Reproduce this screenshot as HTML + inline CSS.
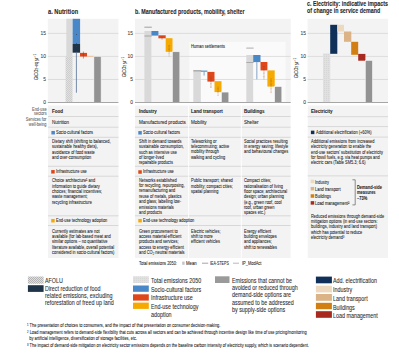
<!DOCTYPE html>
<html><head><meta charset="utf-8"><style>
html,body{margin:0;padding:0;background:#fff;width:399px;height:355px;overflow:hidden;position:relative;font-family:"Liberation Sans", sans-serif;}
sub,sup{line-height:0;}
div{-webkit-text-stroke:0.08px currentColor;}
</style></head><body>
<svg width="399" height="355" viewBox="0 0 399 355" style="position:absolute;left:0;top:0" shape-rendering="auto"><defs>
<pattern id="hatch" width="2" height="2" patternUnits="userSpaceOnUse"><rect width="2" height="2" fill="#e0e0e0"/><rect width="1" height="1" fill="#cdcdcd"/><rect x="1" y="1" width="1" height="1" fill="#cdcdcd"/></pattern>
<pattern id="dots" width="2" height="2" patternUnits="userSpaceOnUse"><rect width="2" height="2" fill="#e0e0e0"/><rect width="1" height="1" fill="#d6d6d6"/></pattern>
<pattern id="hatch2" width="2" height="2" patternUnits="userSpaceOnUse"><rect width="2" height="2" fill="#dedede"/><rect width="1" height="1" fill="#b4b4b4"/><rect x="1" y="1" width="1" height="1" fill="#b4b4b4"/></pattern>
</defs><rect x="47.80" y="18.80" width="70.60" height="83.70" fill="#f3f3f3" /><rect x="135.00" y="18.80" width="155.70" height="83.70" fill="#f3f3f3" /><rect x="307.60" y="18.80" width="80.40" height="83.70" fill="#f3f3f3" /><rect x="189.30" y="41.90" width="96.30" height="60.60" fill="#fafafa" /><line x1="47.80" y1="79.47" x2="118.40" y2="79.47" stroke="#d2d2d2" stroke-width="0.7" /><line x1="47.80" y1="56.43" x2="118.40" y2="56.43" stroke="#d2d2d2" stroke-width="0.7" /><line x1="47.80" y1="33.40" x2="118.40" y2="33.40" stroke="#d2d2d2" stroke-width="0.7" /><line x1="135.00" y1="79.47" x2="290.70" y2="79.47" stroke="#d2d2d2" stroke-width="0.7" /><line x1="135.00" y1="56.43" x2="290.70" y2="56.43" stroke="#d2d2d2" stroke-width="0.7" /><line x1="135.00" y1="33.40" x2="290.70" y2="33.40" stroke="#d2d2d2" stroke-width="0.7" /><line x1="307.60" y1="79.47" x2="388.00" y2="79.47" stroke="#d2d2d2" stroke-width="0.7" /><line x1="307.60" y1="56.43" x2="388.00" y2="56.43" stroke="#d2d2d2" stroke-width="0.7" /><line x1="307.60" y1="33.40" x2="388.00" y2="33.40" stroke="#d2d2d2" stroke-width="0.7" /><rect x="66.30" y="18.80" width="6.10" height="37.63" fill="#d9d9d9" /><rect x="65.60" y="56.43" width="6.90" height="46.07" fill="url(#hatch)" /><rect x="72.60" y="18.80" width="7.50" height="25.10" fill="#4a87c9" /><rect x="72.60" y="43.90" width="7.50" height="8.80" fill="#1f3449" /><line x1="76.40" y1="52.70" x2="76.40" y2="92.70" stroke="#4a6890" stroke-width="0.75" /><rect x="76.00" y="34.00" width="0.80" height="0.80" fill="#2c3e55" /><rect x="76.00" y="43.00" width="0.80" height="0.80" fill="#2c3e55" /><rect x="76.00" y="46.10" width="0.80" height="0.80" fill="#2c3e55" /><rect x="76.00" y="50.90" width="0.80" height="0.80" fill="#2c3e55" /><rect x="80.00" y="52.90" width="7.00" height="3.60" fill="#df4619" /><line x1="83.40" y1="51.50" x2="83.40" y2="58.50" stroke="#7a3a20" stroke-width="0.5" /><line x1="87.00" y1="56.30" x2="94.00" y2="56.30" stroke="#f3b27a" stroke-width="0.7" /><rect x="93.90" y="56.43" width="7.20" height="46.07" fill="#929292" stroke="#fafafa" stroke-width="0.5"/><rect x="144.40" y="31.00" width="7.00" height="71.50" fill="#d9d9d9" /><rect x="151.40" y="31.00" width="7.00" height="4.60" fill="#4a87c9" /><rect x="158.40" y="35.30" width="7.30" height="3.00" fill="#df4619" /><rect x="165.70" y="38.20" width="6.80" height="13.60" fill="#f6a900" /><rect x="172.50" y="51.80" width="7.30" height="50.70" fill="#929292" stroke="#fafafa" stroke-width="0.5"/><line x1="144.40" y1="27.20" x2="151.80" y2="27.20" stroke="#666666" stroke-width="0.6" /><line x1="144.40" y1="36.00" x2="151.80" y2="36.00" stroke="#a6a6a6" stroke-width="1.0" /><line x1="154.90" y1="35.60" x2="154.90" y2="35.60" stroke="#5f87b5" stroke-width="0.75" /><line x1="162.05" y1="36.80" x2="162.05" y2="38.30" stroke="#7a4020" stroke-width="0.55" stroke-dasharray="0.8 0.6"/><line x1="162.05" y1="38.30" x2="162.05" y2="40.00" stroke="#a06a48" stroke-width="0.7" stroke-dasharray="0.9 0.5"/><line x1="169.10" y1="45.00" x2="169.10" y2="51.80" stroke="#7a4020" stroke-width="0.55" stroke-dasharray="0.8 0.6"/><line x1="169.10" y1="51.80" x2="169.10" y2="56.40" stroke="#c0885a" stroke-width="0.7" stroke-dasharray="0.9 0.5"/><rect x="193.30" y="70.80" width="7.50" height="31.70" fill="#d9d9d9" /><rect x="200.80" y="70.60" width="6.60" height="1.10" fill="#4a87c9" /><rect x="207.40" y="71.90" width="7.10" height="9.70" fill="#df4619" /><rect x="214.50" y="81.20" width="7.00" height="10.90" fill="#f6a900" /><rect x="221.50" y="92.10" width="7.30" height="10.40" fill="#929292" stroke="#fafafa" stroke-width="0.5"/><line x1="193.30" y1="70.80" x2="201.20" y2="70.80" stroke="#777777" stroke-width="0.8" /><line x1="204.10" y1="71.70" x2="204.10" y2="75.60" stroke="#5f87b5" stroke-width="0.75" /><line x1="210.95" y1="76.75" x2="210.95" y2="81.60" stroke="#7a4020" stroke-width="0.55" stroke-dasharray="0.8 0.6"/><line x1="210.95" y1="81.60" x2="210.95" y2="88.00" stroke="#a06a48" stroke-width="0.7" stroke-dasharray="0.9 0.5"/><line x1="218.00" y1="86.65" x2="218.00" y2="92.10" stroke="#7a4020" stroke-width="0.55" stroke-dasharray="0.8 0.6"/><line x1="218.00" y1="92.10" x2="218.00" y2="96.00" stroke="#c0885a" stroke-width="0.7" stroke-dasharray="0.9 0.5"/><rect x="246.30" y="55.00" width="6.90" height="47.50" fill="#d9d9d9" /><rect x="253.20" y="55.00" width="7.30" height="7.10" fill="#4a87c9" /><rect x="260.50" y="62.00" width="6.90" height="8.40" fill="#df4619" /><rect x="267.40" y="70.40" width="7.30" height="16.20" fill="#f6a900" /><rect x="274.70" y="86.60" width="7.10" height="15.90" fill="#929292" stroke="#fafafa" stroke-width="0.5"/><line x1="246.30" y1="48.10" x2="253.60" y2="48.10" stroke="#8a8a8a" stroke-width="0.7" /><line x1="246.30" y1="62.50" x2="253.60" y2="62.50" stroke="#a6a6a6" stroke-width="0.9" /><line x1="256.85" y1="62.10" x2="256.85" y2="79.30" stroke="#5f87b5" stroke-width="0.75" /><line x1="263.95" y1="66.20" x2="263.95" y2="70.40" stroke="#7a4020" stroke-width="0.55" stroke-dasharray="0.8 0.6"/><line x1="263.95" y1="70.40" x2="263.95" y2="79.30" stroke="#a06a48" stroke-width="0.7" stroke-dasharray="0.9 0.5"/><line x1="271.05" y1="78.50" x2="271.05" y2="86.60" stroke="#7a4020" stroke-width="0.55" stroke-dasharray="0.8 0.6"/><line x1="271.05" y1="86.60" x2="271.05" y2="93.50" stroke="#c0885a" stroke-width="0.7" stroke-dasharray="0.9 0.5"/><rect x="323.00" y="53.50" width="7.20" height="49.00" fill="url(#dots)" /><rect x="330.20" y="24.80" width="7.10" height="29.00" fill="#10305a" /><rect x="337.30" y="24.80" width="6.70" height="6.70" fill="#ecd9c0" /><rect x="344.00" y="31.50" width="7.30" height="10.30" fill="#dbb387" /><rect x="351.20" y="41.80" width="7.00" height="13.00" fill="#d17f12" /><rect x="358.20" y="53.90" width="7.20" height="6.80" fill="#a8291e" /><rect x="365.40" y="60.50" width="7.00" height="42.00" fill="#929292" stroke="#fafafa" stroke-width="0.5"/><line x1="47.80" y1="102.50" x2="118.40" y2="102.50" stroke="#a6a6a6" stroke-width="1.0" /><line x1="135.00" y1="102.50" x2="290.70" y2="102.50" stroke="#a6a6a6" stroke-width="1.0" /><line x1="307.60" y1="102.50" x2="388.00" y2="102.50" stroke="#a6a6a6" stroke-width="1.0" /><rect x="48.00" y="105.50" width="70.50" height="152.50" fill="#f3f3f3" /><line x1="48.00" y1="116.50" x2="118.50" y2="116.50" stroke="#d8d8d8" stroke-width="1.0" /><line x1="48.00" y1="127.20" x2="118.50" y2="127.20" stroke="#d8d8d8" stroke-width="1.0" /><line x1="48.00" y1="137.30" x2="118.50" y2="137.30" stroke="#d8d8d8" stroke-width="1.0" /><line x1="48.00" y1="166.30" x2="118.50" y2="166.30" stroke="#d8d8d8" stroke-width="1.0" /><line x1="48.00" y1="176.20" x2="118.50" y2="176.20" stroke="#d8d8d8" stroke-width="1.0" /><line x1="48.00" y1="215.80" x2="118.50" y2="215.80" stroke="#d8d8d8" stroke-width="1.0" /><line x1="48.00" y1="225.50" x2="118.50" y2="225.50" stroke="#d8d8d8" stroke-width="1.0" /><rect x="135.00" y="105.50" width="155.60" height="152.50" fill="#f3f3f3" /><line x1="135.00" y1="116.50" x2="290.60" y2="116.50" stroke="#d8d8d8" stroke-width="1.0" /><line x1="135.00" y1="127.20" x2="290.60" y2="127.20" stroke="#d8d8d8" stroke-width="1.0" /><line x1="135.00" y1="137.30" x2="290.60" y2="137.30" stroke="#d8d8d8" stroke-width="1.0" /><line x1="135.00" y1="166.30" x2="290.60" y2="166.30" stroke="#d8d8d8" stroke-width="1.0" /><line x1="135.00" y1="176.20" x2="290.60" y2="176.20" stroke="#d8d8d8" stroke-width="1.0" /><line x1="135.00" y1="215.80" x2="290.60" y2="215.80" stroke="#d8d8d8" stroke-width="1.0" /><line x1="135.00" y1="225.50" x2="290.60" y2="225.50" stroke="#d8d8d8" stroke-width="1.0" /><line x1="188.60" y1="105.50" x2="188.60" y2="258.00" stroke="#ffffff" stroke-width="0.9" /><line x1="241.30" y1="105.50" x2="241.30" y2="258.00" stroke="#ffffff" stroke-width="0.9" /><rect x="307.70" y="105.50" width="80.30" height="152.50" fill="#f3f3f3" /><line x1="307.70" y1="116.70" x2="388.00" y2="116.70" stroke="#d8d8d8" stroke-width="1.0" /><line x1="307.70" y1="126.60" x2="388.00" y2="126.60" stroke="#d8d8d8" stroke-width="1.0" /><line x1="307.70" y1="137.10" x2="388.00" y2="137.10" stroke="#d8d8d8" stroke-width="1.0" /><line x1="307.70" y1="175.90" x2="388.00" y2="175.90" stroke="#d8d8d8" stroke-width="1.0" /><rect x="51.40" y="130.95" width="3.50" height="3.50" fill="#4a87c9" /><rect x="51.20" y="170.05" width="3.50" height="3.50" fill="#df4619" /><rect x="51.20" y="218.95" width="3.50" height="3.50" fill="#f6a900" /><rect x="138.30" y="131.05" width="3.50" height="3.50" fill="#4a87c9" /><rect x="138.30" y="170.25" width="3.50" height="3.50" fill="#df4619" /><rect x="138.30" y="218.95" width="3.50" height="3.50" fill="#f6a900" /><rect x="310.90" y="130.65" width="3.50" height="3.50" fill="#10305a" /><rect x="310.70" y="179.65" width="3.50" height="3.50" fill="#ecd9c0" /><rect x="310.70" y="186.95" width="3.50" height="3.50" fill="#dbb387" /><rect x="310.70" y="194.25" width="3.50" height="3.50" fill="#d17f12" /><rect x="310.70" y="201.15" width="3.50" height="3.50" fill="#a8291e" /><path d="M352.4,179.8 H355.2 V204.9 H352.4" fill="none" stroke="#444" stroke-width="0.6"/><rect x="27.90" y="276.50" width="15.70" height="7.20" fill="url(#hatch2)" /><rect x="27.90" y="285.20" width="15.70" height="6.70" fill="#1f3449" /><rect x="133.00" y="276.30" width="15.80" height="6.70" fill="url(#dots)" /><rect x="133.00" y="285.50" width="15.80" height="6.30" fill="#4a87c9" /><rect x="133.00" y="294.30" width="15.80" height="6.30" fill="#df4619" /><rect x="133.00" y="302.60" width="15.80" height="6.30" fill="#f6a900" /><rect x="215.00" y="276.30" width="14.50" height="6.70" fill="#9a9a9a" /><rect x="315.90" y="276.60" width="16.00" height="6.70" fill="#10305a" /><rect x="315.90" y="285.70" width="16.00" height="6.70" fill="#ecd9c0" /><rect x="315.90" y="294.00" width="16.00" height="6.80" fill="#dbb387" /><rect x="315.90" y="302.80" width="16.00" height="6.40" fill="#d17f12" /><rect x="315.90" y="311.20" width="16.00" height="6.60" fill="#a8291e" /><rect x="182.20" y="261.60" width="2.40" height="3.20" fill="#c4c4c4" /><line x1="202.00" y1="263.20" x2="208.20" y2="263.20" stroke="#666" stroke-width="0.6" /><line x1="233.00" y1="263.20" x2="239.00" y2="263.20" stroke="#888" stroke-width="0.6" /></svg>
<div style="position:absolute;left:48.20px;top:7.50px;font-size:6.8px;font-weight:bold;color:#262626;line-height:8px;transform:scaleX(0.84);transform-origin:0 0;white-space:nowrap;">a. Nutrition</div><div style="position:absolute;left:135.30px;top:7.50px;font-size:6.8px;font-weight:bold;color:#262626;line-height:8px;transform:scaleX(0.79);transform-origin:0 0;white-space:nowrap;">b. Manufactured products, mobility, shelter</div><div style="position:absolute;left:307.40px;top:0.20px;font-size:6.8px;font-weight:bold;color:#262626;line-height:7.0px;transform:scaleX(0.785);transform-origin:0 0;white-space:nowrap;">c. Electricity: indicative impacts<br>of change in service demand</div><div style="position:absolute;right:352.80px;top:99.40px;font-size:5.4px;font-weight:normal;color:#3a3a3a;line-height:6.0px;transform:scaleX(0.9);transform-origin:100% 0;text-align:right;white-space:nowrap;">0</div><div style="position:absolute;right:352.80px;top:76.37px;font-size:5.4px;font-weight:normal;color:#3a3a3a;line-height:6.0px;transform:scaleX(0.9);transform-origin:100% 0;text-align:right;white-space:nowrap;">5</div><div style="position:absolute;right:352.80px;top:53.33px;font-size:5.4px;font-weight:normal;color:#3a3a3a;line-height:6.0px;transform:scaleX(0.9);transform-origin:100% 0;text-align:right;white-space:nowrap;">10</div><div style="position:absolute;right:352.80px;top:30.30px;font-size:5.4px;font-weight:normal;color:#3a3a3a;line-height:6.0px;transform:scaleX(0.9);transform-origin:100% 0;text-align:right;white-space:nowrap;">15</div><div style="position:absolute;right:266.00px;top:99.40px;font-size:5.4px;font-weight:normal;color:#3a3a3a;line-height:6.0px;transform:scaleX(0.9);transform-origin:100% 0;text-align:right;white-space:nowrap;">0</div><div style="position:absolute;right:266.00px;top:76.37px;font-size:5.4px;font-weight:normal;color:#3a3a3a;line-height:6.0px;transform:scaleX(0.9);transform-origin:100% 0;text-align:right;white-space:nowrap;">5</div><div style="position:absolute;right:266.00px;top:53.33px;font-size:5.4px;font-weight:normal;color:#3a3a3a;line-height:6.0px;transform:scaleX(0.9);transform-origin:100% 0;text-align:right;white-space:nowrap;">10</div><div style="position:absolute;right:266.00px;top:30.30px;font-size:5.4px;font-weight:normal;color:#3a3a3a;line-height:6.0px;transform:scaleX(0.9);transform-origin:100% 0;text-align:right;white-space:nowrap;">15</div><div style="position:absolute;right:93.20px;top:99.40px;font-size:5.4px;font-weight:normal;color:#3a3a3a;line-height:6.0px;transform:scaleX(0.9);transform-origin:100% 0;text-align:right;white-space:nowrap;">0</div><div style="position:absolute;right:93.20px;top:76.37px;font-size:5.4px;font-weight:normal;color:#3a3a3a;line-height:6.0px;transform:scaleX(0.9);transform-origin:100% 0;text-align:right;white-space:nowrap;">5</div><div style="position:absolute;right:93.20px;top:53.33px;font-size:5.4px;font-weight:normal;color:#3a3a3a;line-height:6.0px;transform:scaleX(0.9);transform-origin:100% 0;text-align:right;white-space:nowrap;">10</div><div style="position:absolute;right:93.20px;top:30.30px;font-size:5.4px;font-weight:normal;color:#3a3a3a;line-height:6.0px;transform:scaleX(0.9);transform-origin:100% 0;text-align:right;white-space:nowrap;">15</div><div style="position:absolute;left:36.60px;top:67.40px;font-size:4.6px;color:#333;line-height:4.6px;white-space:nowrap;transform:translate(-50%,-50%) rotate(-90deg) scaleX(0.9);">GtCO<sub style="font-size:70%;vertical-align:-0.5px">2</sub>-eq yr<sup style="font-size:70%;vertical-align:1.5px">−1</sup></div><div style="position:absolute;left:124.60px;top:67.20px;font-size:4.6px;color:#333;line-height:4.6px;white-space:nowrap;transform:translate(-50%,-50%) rotate(-90deg) scaleX(0.9);">GtCO<sub style="font-size:70%;vertical-align:-0.5px">2</sub> yr<sup style="font-size:70%;vertical-align:1.5px">−1</sup></div><div style="position:absolute;left:296.70px;top:67.80px;font-size:4.6px;color:#333;line-height:4.6px;white-space:nowrap;transform:translate(-50%,-50%) rotate(-90deg) scaleX(0.9);">GtCO<sub style="font-size:70%;vertical-align:-0.5px">2</sub> yr<sup style="font-size:70%;vertical-align:1.5px">−1</sup></div><div style="position:absolute;left:191.20px;top:42.60px;font-size:5.0px;font-weight:normal;color:#262626;line-height:6px;transform:scaleX(0.79);transform-origin:0 0;white-space:nowrap;">Human settlements</div><div style="position:absolute;right:352.70px;top:106.90px;font-size:5.0px;font-weight:normal;color:#666;line-height:4.4px;transform:scaleX(0.78);transform-origin:100% 0;text-align:right;white-space:nowrap;">End-use<br>sectors</div><div style="position:absolute;right:352.70px;top:116.60px;font-size:5.0px;font-weight:normal;color:#666;line-height:5.0px;transform:scaleX(0.78);transform-origin:100% 0;text-align:right;white-space:nowrap;">Services for<br>well-being</div><div style="position:absolute;left:52.10px;top:108.10px;font-size:5.0px;font-weight:bold;color:#262626;line-height:6px;transform:scaleX(0.9);transform-origin:0 0;white-space:nowrap;">Food</div><div style="position:absolute;left:139.00px;top:108.10px;font-size:5.0px;font-weight:bold;color:#262626;line-height:6px;transform:scaleX(0.9);transform-origin:0 0;white-space:nowrap;">Industry</div><div style="position:absolute;left:191.30px;top:108.10px;font-size:5.0px;font-weight:bold;color:#262626;line-height:6px;transform:scaleX(0.9);transform-origin:0 0;white-space:nowrap;">Land transport</div><div style="position:absolute;left:243.50px;top:108.10px;font-size:5.0px;font-weight:bold;color:#262626;line-height:6px;transform:scaleX(0.9);transform-origin:0 0;white-space:nowrap;">Buildings</div><div style="position:absolute;left:311.00px;top:108.00px;font-size:5.0px;font-weight:bold;color:#262626;line-height:6px;transform:scaleX(0.9);transform-origin:0 0;white-space:nowrap;">Electricity</div><div style="position:absolute;left:52.40px;top:118.80px;font-size:5.6px;font-weight:normal;color:#262626;line-height:6px;transform:scaleX(0.82);transform-origin:0 0;white-space:nowrap;">Nutrition</div><div style="position:absolute;left:139.00px;top:118.80px;font-size:5.6px;font-weight:normal;color:#262626;line-height:6px;transform:scaleX(0.82);transform-origin:0 0;white-space:nowrap;">Manufactured products</div><div style="position:absolute;left:191.30px;top:118.80px;font-size:5.6px;font-weight:normal;color:#262626;line-height:6px;transform:scaleX(0.82);transform-origin:0 0;white-space:nowrap;">Mobility</div><div style="position:absolute;left:243.50px;top:118.80px;font-size:5.6px;font-weight:normal;color:#262626;line-height:6px;transform:scaleX(0.82);transform-origin:0 0;white-space:nowrap;">Shelter</div><div style="position:absolute;left:56.00px;top:130.30px;font-size:5.5px;font-weight:normal;color:#262626;line-height:5.35px;transform:scaleX(0.72);transform-origin:0 0;white-space:nowrap;">Socio-cultural factors</div><div style="position:absolute;left:56.00px;top:169.20px;font-size:5.5px;font-weight:normal;color:#262626;line-height:5.35px;transform:scaleX(0.72);transform-origin:0 0;white-space:nowrap;">Infrastructure use</div><div style="position:absolute;left:56.00px;top:218.40px;font-size:5.5px;font-weight:normal;color:#262626;line-height:5.35px;transform:scaleX(0.72);transform-origin:0 0;white-space:nowrap;">End-use technology adoption</div><div style="position:absolute;left:143.40px;top:130.30px;font-size:5.5px;font-weight:normal;color:#262626;line-height:5.35px;transform:scaleX(0.72);transform-origin:0 0;white-space:nowrap;">Socio-cultural factors</div><div style="position:absolute;left:143.40px;top:169.20px;font-size:5.5px;font-weight:normal;color:#262626;line-height:5.35px;transform:scaleX(0.72);transform-origin:0 0;white-space:nowrap;">Infrastructure use</div><div style="position:absolute;left:143.40px;top:218.40px;font-size:5.5px;font-weight:normal;color:#262626;line-height:5.35px;transform:scaleX(0.72);transform-origin:0 0;white-space:nowrap;">End-use technology adoption</div><div style="position:absolute;left:315.80px;top:129.90px;font-size:5.5px;font-weight:normal;color:#262626;line-height:5.35px;transform:scaleX(0.72);transform-origin:0 0;white-space:nowrap;">Additional electrification (+60%)</div><div style="position:absolute;left:52.10px;top:139.10px;font-size:5.5px;font-weight:normal;color:#262626;line-height:5.35px;transform:scaleX(0.72);transform-origin:0 0;white-space:nowrap;">Dietary shift (shifting to balanced,<br>sustainable healthy diets),<br>avoidance of food waste<br>and over-consumption</div><div style="position:absolute;left:52.10px;top:178.40px;font-size:5.5px;font-weight:normal;color:#262626;line-height:5.35px;transform:scaleX(0.72);transform-origin:0 0;white-space:nowrap;">Choice architecture¹ and<br>information to guide dietary<br>choices; financial incentives;<br>waste management;<br>recycling infrastructure</div><div style="position:absolute;left:52.10px;top:228.80px;font-size:5.5px;font-weight:normal;color:#262626;line-height:5.35px;transform:scaleX(0.72);transform-origin:0 0;white-space:nowrap;">Currently estimates are not<br>available (for lab-based meat and<br>similar options – no quantitative<br>literature available, overall potential<br>considered in socio-cultural factors)</div><div style="position:absolute;left:139.00px;top:139.00px;font-size:5.5px;font-weight:normal;color:#262626;line-height:5.35px;transform:scaleX(0.72);transform-origin:0 0;white-space:nowrap;">Shift in demand towards<br>sustainable consumption,<br>such as intensive use<br>of longer-lived<br>repairable products</div><div style="position:absolute;left:139.00px;top:177.80px;font-size:5.5px;font-weight:normal;color:#262626;line-height:5.35px;transform:scaleX(0.72);transform-origin:0 0;white-space:nowrap;">Networks established<br>for recycling, repurposing,<br>remanufacturing and<br>reuse of metals, plastics<br>and glass; labelling low-<br>emissions materials<br>and products</div><div style="position:absolute;left:139.00px;top:228.70px;font-size:5.5px;font-weight:normal;color:#262626;line-height:5.35px;transform:scaleX(0.72);transform-origin:0 0;white-space:nowrap;">Green procurement to<br>access material-efficient<br>products and services;<br>access to energy-efficient<br>and CO<sub style="font-size:70%;vertical-align:-0.5px">2</sub> neutral materials</div><div style="position:absolute;left:191.30px;top:138.80px;font-size:5.5px;font-weight:normal;color:#262626;line-height:5.35px;transform:scaleX(0.72);transform-origin:0 0;white-space:nowrap;">Teleworking or<br>telecommuting; active<br>mobility through<br>walking and cycling</div><div style="position:absolute;left:191.30px;top:178.40px;font-size:5.5px;font-weight:normal;color:#262626;line-height:5.35px;transform:scaleX(0.72);transform-origin:0 0;white-space:nowrap;">Public transport; shared<br>mobility; compact cities;<br>spatial planning</div><div style="position:absolute;left:191.30px;top:228.60px;font-size:5.5px;font-weight:normal;color:#262626;line-height:5.35px;transform:scaleX(0.72);transform-origin:0 0;white-space:nowrap;">Electric vehicles;<br>shift to more<br>efficient vehicles</div><div style="position:absolute;left:243.50px;top:138.80px;font-size:5.5px;font-weight:normal;color:#262626;line-height:5.35px;transform:scaleX(0.72);transform-origin:0 0;white-space:nowrap;">Social practices resulting<br>in energy saving; lifestyle<br>and behavioural changes</div><div style="position:absolute;left:243.50px;top:178.40px;font-size:5.5px;font-weight:normal;color:#262626;line-height:5.35px;transform:scaleX(0.72);transform-origin:0 0;white-space:nowrap;">Compact cities;<br>rationalisation of living<br>floor space; architectural<br>design; urban planning<br>(e.g., green roof, cool<br>roof, urban green<br>spaces etc.)</div><div style="position:absolute;left:243.50px;top:228.60px;font-size:5.5px;font-weight:normal;color:#262626;line-height:5.35px;transform:scaleX(0.72);transform-origin:0 0;white-space:nowrap;">Energy efficient<br>building envelopes<br>and appliances;<br>shift to renewables</div><div style="position:absolute;left:311.00px;top:139.10px;font-size:5.5px;font-weight:normal;color:#262626;line-height:5.35px;transform:scaleX(0.72);transform-origin:0 0;white-space:nowrap;">Additional emissions from increased<br>electricity generation to enable the<br>end-use sectors' substitution of electricity<br>for fossil fuels, e.g. via heat pumps and<br>electric cars (Table SM5.3; 6.6)</div><div style="position:absolute;left:315.30px;top:179.00px;font-size:5.0px;font-weight:normal;color:#262626;line-height:7.05px;transform:scaleX(0.79);transform-origin:0 0;white-space:nowrap;">Industry<br>Land transport<br>Buildings<br>Load management²</div><div style="position:absolute;left:357.40px;top:184.80px;font-size:5.6px;font-weight:bold;color:#262626;line-height:5.4px;transform:scaleX(0.71);transform-origin:0 0;white-space:nowrap;">Demand-side<br>measures<br>–73%</div><div style="position:absolute;left:311.00px;top:213.80px;font-size:5.5px;font-weight:normal;color:#262626;line-height:5.35px;transform:scaleX(0.72);transform-origin:0 0;white-space:nowrap;">Reduced emissions through demand-side<br>mitigation options (in end-use sectors:<br>buildings, industry and land transport)<br>which has potential to reduce<br>electricity demand³</div><div style="position:absolute;left:138.80px;top:260.60px;font-size:5.5px;font-weight:normal;color:#262626;line-height:5.2px;transform:scaleX(0.72);transform-origin:0 0;white-space:nowrap;">Total emissions 2050:</div><div style="position:absolute;left:186.30px;top:260.60px;font-size:5.5px;font-weight:normal;color:#262626;line-height:5.2px;transform:scaleX(0.78);transform-origin:0 0;white-space:nowrap;">Mean</div><div style="position:absolute;left:209.90px;top:260.60px;font-size:5.5px;font-weight:normal;color:#262626;line-height:5.2px;transform:scaleX(0.655);transform-origin:0 0;white-space:nowrap;">IEA-STEPS</div><div style="position:absolute;left:242.00px;top:260.60px;font-size:5.5px;font-weight:normal;color:#262626;line-height:5.2px;transform:scaleX(0.72);transform-origin:0 0;white-space:nowrap;">IP_ModAct</div><div style="position:absolute;left:45.00px;top:276.90px;font-size:6.8px;font-weight:normal;color:#2e2e2e;line-height:7px;transform:scaleX(0.79);transform-origin:0 0;white-space:nowrap;">AFOLU</div><div style="position:absolute;left:45.00px;top:285.40px;font-size:6.8px;font-weight:normal;color:#2e2e2e;line-height:7px;transform:scaleX(0.79);transform-origin:0 0;white-space:nowrap;">Direct reduction of food</div><div style="position:absolute;left:45.00px;top:291.80px;font-size:6.8px;font-weight:normal;color:#2e2e2e;line-height:7px;transform:scaleX(0.79);transform-origin:0 0;white-space:nowrap;">related emissions, excluding</div><div style="position:absolute;left:45.00px;top:298.60px;font-size:6.8px;font-weight:normal;color:#2e2e2e;line-height:7px;transform:scaleX(0.79);transform-origin:0 0;white-space:nowrap;">reforestation of freed up land</div><div style="position:absolute;left:151.00px;top:277.00px;font-size:6.8px;font-weight:normal;color:#2e2e2e;line-height:7px;transform:scaleX(0.79);transform-origin:0 0;white-space:nowrap;">Total emissions 2050</div><div style="position:absolute;left:151.00px;top:285.50px;font-size:6.8px;font-weight:normal;color:#2e2e2e;line-height:7px;transform:scaleX(0.79);transform-origin:0 0;white-space:nowrap;">Socio-cultural factors</div><div style="position:absolute;left:151.00px;top:294.40px;font-size:6.8px;font-weight:normal;color:#2e2e2e;line-height:7px;transform:scaleX(0.79);transform-origin:0 0;white-space:nowrap;">Infrastructure use</div><div style="position:absolute;left:151.00px;top:303.40px;font-size:6.8px;font-weight:normal;color:#2e2e2e;line-height:7px;transform:scaleX(0.79);transform-origin:0 0;white-space:nowrap;">End-use technology</div><div style="position:absolute;left:151.00px;top:310.50px;font-size:6.8px;font-weight:normal;color:#2e2e2e;line-height:7px;transform:scaleX(0.79);transform-origin:0 0;white-space:nowrap;">adoption</div><div style="position:absolute;left:231.90px;top:276.50px;font-size:6.8px;font-weight:normal;color:#2e2e2e;line-height:7px;transform:scaleX(0.79);transform-origin:0 0;white-space:nowrap;">Emissions that cannot be</div><div style="position:absolute;left:231.90px;top:284.00px;font-size:6.8px;font-weight:normal;color:#2e2e2e;line-height:7px;transform:scaleX(0.79);transform-origin:0 0;white-space:nowrap;">avoided or reduced through</div><div style="position:absolute;left:231.90px;top:291.40px;font-size:6.8px;font-weight:normal;color:#2e2e2e;line-height:7px;transform:scaleX(0.79);transform-origin:0 0;white-space:nowrap;">demand-side options are</div><div style="position:absolute;left:231.90px;top:298.70px;font-size:6.8px;font-weight:normal;color:#2e2e2e;line-height:7px;transform:scaleX(0.79);transform-origin:0 0;white-space:nowrap;">assumed to be addressed</div><div style="position:absolute;left:231.90px;top:305.60px;font-size:6.8px;font-weight:normal;color:#2e2e2e;line-height:7px;transform:scaleX(0.79);transform-origin:0 0;white-space:nowrap;">by supply-side options</div><div style="position:absolute;left:333.40px;top:277.10px;font-size:6.8px;font-weight:normal;color:#2e2e2e;line-height:7px;transform:scaleX(0.79);transform-origin:0 0;white-space:nowrap;">Add. electrification</div><div style="position:absolute;left:333.40px;top:286.00px;font-size:6.8px;font-weight:normal;color:#2e2e2e;line-height:7px;transform:scaleX(0.79);transform-origin:0 0;white-space:nowrap;">Industry</div><div style="position:absolute;left:333.40px;top:294.80px;font-size:6.8px;font-weight:normal;color:#2e2e2e;line-height:7px;transform:scaleX(0.79);transform-origin:0 0;white-space:nowrap;">Land transport</div><div style="position:absolute;left:333.40px;top:303.60px;font-size:6.8px;font-weight:normal;color:#2e2e2e;line-height:7px;transform:scaleX(0.79);transform-origin:0 0;white-space:nowrap;">Buildings</div><div style="position:absolute;left:333.40px;top:312.20px;font-size:6.8px;font-weight:normal;color:#2e2e2e;line-height:7px;transform:scaleX(0.79);transform-origin:0 0;white-space:nowrap;">Load management</div><div style="position:absolute;left:26.60px;top:323.40px;font-size:5.3px;font-weight:normal;color:#262626;line-height:5.2px;transform:scaleX(0.745);transform-origin:0 0;white-space:nowrap;"><sup style="font-size:70%;vertical-align:1px">1</sup> The presentation of choices to consumers, and the impact of that presentation on consumer decision-making.</div><div style="position:absolute;left:26.60px;top:330.40px;font-size:5.3px;font-weight:normal;color:#262626;line-height:5.9px;transform:scaleX(0.745);transform-origin:0 0;white-space:nowrap;"><sup style="font-size:70%;vertical-align:1px">2</sup> Load management refers to demand-side flexibility that cuts across all sectors and can be achieved through incentive design like time of use pricing/monitoring<br>&nbsp;&nbsp;by artificial intelligence, diversification of storage facilities, etc.</div><div style="position:absolute;left:26.60px;top:343.40px;font-size:5.3px;font-weight:normal;color:#262626;line-height:5.2px;transform:scaleX(0.745);transform-origin:0 0;white-space:nowrap;"><sup style="font-size:70%;vertical-align:1px">3</sup> The impact of demand-side mitigation on electricity sector emissions depends on the baseline carbon intensity of electricity supply, which is scenario dependent.</div>
</body></html>
